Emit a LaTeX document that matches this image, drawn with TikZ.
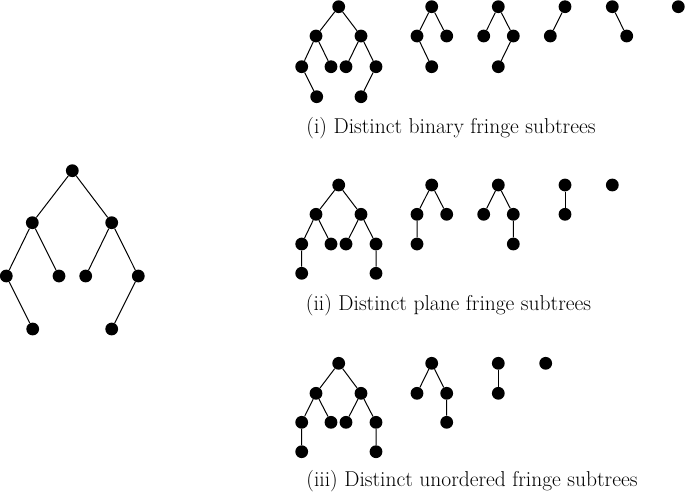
\documentclass[tikz,border=0pt]{standalone}
\usepackage{fontspec}
\begin{document}
\begin{tikzpicture}[x=1pt,y=-1pt,
  dot/.style={circle,fill=black,inner sep=0pt,minimum size=12.8pt},
  edge/.style={line width=1pt},
  captext/.style={font=\fontsize{21.5}{25}\selectfont,inner sep=0pt}]
\useasboundingbox (0,0) rectangle (685,493);
% big tree
\node[dot] (B0) at (72.3,170.7) {};
\node[dot] (B1) at (32.3,222.7) {};
\node[dot] (B2) at (111.7,222.7) {};
\node[dot] (B3) at (6.3,276) {};
\node[dot] (B4) at (59,276) {};
\node[dot] (B5) at (85.7,276) {};
\node[dot] (B6) at (138.3,276) {};
\node[dot] (B7) at (32.7,329) {};
\node[dot] (B8) at (111.7,329) {};
\draw[edge] (B0)--(B1) (B0)--(B2) (B1)--(B3) (B1)--(B4) (B2)--(B5) (B2)--(B6) (B3)--(B7) (B6)--(B8);
% row 1
\node[dot] (a0) at (338.7,6.7) {};
\node[dot] (a1) at (316,36) {};
\node[dot] (a2) at (361,36) {};
\node[dot] (a3) at (301.7,66.7) {};
\node[dot] (a4) at (331,66.7) {};
\node[dot] (a5) at (346,66.7) {};
\node[dot] (a6) at (376,66.7) {};
\node[dot] (a7) at (316.7,96.7) {};
\node[dot] (a8) at (361,96.7) {};
\draw[edge] (a0)--(a1) (a0)--(a2) (a1)--(a3) (a1)--(a4) (a2)--(a5) (a2)--(a6) (a3)--(a7) (a6)--(a8);
\node[dot] (b0) at (431.7,6.7) {};
\node[dot] (b1) at (417,36) {};
\node[dot] (b2) at (446.7,36) {};
\node[dot] (b3) at (431.7,66.7) {};
\draw[edge] (b0)--(b1) (b0)--(b2) (b1)--(b3);
\node[dot] (c0) at (498.3,6.7) {};
\node[dot] (c1) at (483.7,36) {};
\node[dot] (c2) at (513.3,36) {};
\node[dot] (c3) at (498.3,66.7) {};
\draw[edge] (c0)--(c1) (c0)--(c2) (c2)--(c3);
\node[dot] (d0) at (565,6.7) {};
\node[dot] (d1) at (550.3,36) {};
\draw[edge] (d0)--(d1);
\node[dot] (e0) at (612.3,6.7) {};
\node[dot] (e1) at (626.7,36) {};
\draw[edge] (e0)--(e1);
\node[dot] (f0) at (678.3,6.7) {};
\node[captext] (cap1) at (451,128) {(i) Distinct binary fringe subtrees};
% row 2
\node[dot] (g0) at (338.7,185) {};
\node[dot] (g1) at (316,214.3) {};
\node[dot] (g2) at (361,214.3) {};
\node[dot] (g3) at (301.7,244) {};
\node[dot] (g4) at (331,244) {};
\node[dot] (g5) at (346,244) {};
\node[dot] (g6) at (376,244) {};
\node[dot] (g7) at (301.7,273.3) {};
\node[dot] (g8) at (376,273.3) {};
\draw[edge] (g0)--(g1) (g0)--(g2) (g1)--(g3) (g1)--(g4) (g2)--(g5) (g2)--(g6) (g3)--(g7) (g6)--(g8);
\node[dot] (h0) at (431.7,185) {};
\node[dot] (h1) at (417,214.3) {};
\node[dot] (h2) at (446.7,214.3) {};
\node[dot] (h3) at (417,244) {};
\draw[edge] (h0)--(h1) (h0)--(h2) (h1)--(h3);
\node[dot] (i0) at (498.3,185) {};
\node[dot] (i1) at (483.7,214.3) {};
\node[dot] (i2) at (513.3,214.3) {};
\node[dot] (i3) at (513.3,244) {};
\draw[edge] (i0)--(i1) (i0)--(i2) (i2)--(i3);
\node[dot] (j0) at (565,185) {};
\node[dot] (j1) at (565,214.3) {};
\draw[edge] (j0)--(j1);
\node[dot] (k0) at (612.3,185) {};
\node[captext] (cap2) at (448.5,305) {(ii) Distinct plane fringe subtrees};
% row 3
\node[dot] (m0) at (338.7,363.3) {};
\node[dot] (m1) at (316,393.3) {};
\node[dot] (m2) at (361,393.3) {};
\node[dot] (m3) at (301.7,422.3) {};
\node[dot] (m4) at (331,422.3) {};
\node[dot] (m5) at (346,422.3) {};
\node[dot] (m6) at (376,422.3) {};
\node[dot] (m7) at (301.7,451.7) {};
\node[dot] (m8) at (376,451.7) {};
\draw[edge] (m0)--(m1) (m0)--(m2) (m1)--(m3) (m1)--(m4) (m2)--(m5) (m2)--(m6) (m3)--(m7) (m6)--(m8);
\node[dot] (n0) at (431.7,363.3) {};
\node[dot] (n1) at (417,393.3) {};
\node[dot] (n2) at (446.7,393.3) {};
\node[dot] (n3) at (446.7,422.3) {};
\draw[edge] (n0)--(n1) (n0)--(n2) (n2)--(n3);
\node[dot] (o0) at (498.3,363.3) {};
\node[dot] (o1) at (498.3,393.3) {};
\draw[edge] (o0)--(o1);
\node[dot] (p0) at (545.7,363.3) {};
\node[captext] (cap3) at (472,481) {(iii) Distinct unordered fringe subtrees};
\end{tikzpicture}
\end{document}
